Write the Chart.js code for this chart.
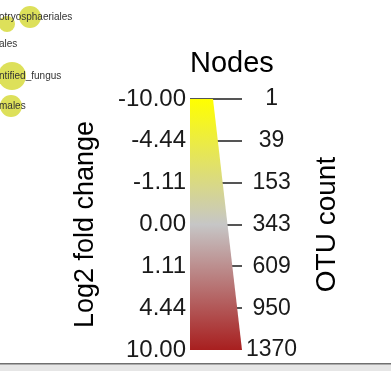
<!DOCTYPE html>
<html>
<head>
<meta charset="utf-8">
<script src="https://cdn.jsdelivr.net/npm/chart.js@4/dist/chart.umd.min.js"></script>
<style>
  body { margin: 0; background: #fff; }
  #wrap { position: relative; width: 391px; height: 371px; overflow: hidden; }
  #legend { position: absolute; left: 0; top: 0; }
  #nodes { position: absolute; left: 0; top: 0; }
</style>
</head>
<body>
<div id="wrap">
  <canvas id="legend" width="391" height="371"></canvas>
  <canvas id="nodes" width="130" height="125"></canvas>
</div>
<script>
// legend tick labels
const log2Ticks = ['-10.00', '-4.44', '-1.11', '0.00', '1.11', '4.44', '10.00'];
const otuTicks = ['1', '39', '153', '343', '609', '950', '1370'];
// legend node size at smallest and largest OTU count
const nodeSize = [23, 52];

// network nodes visible at the top left corner
const nodeLabels = ['otryosphaeriales', '', 'ales', 'ntified_fungus', 'males'];
const nodeX = [30, 7, -20, 12, 11];
const nodeY = [17, 24, 44, 76, 106];
const nodeR = [11, 8, 10, 14, 11];

const FONT = "'Liberation Sans', Arial, sans-serif";
const TEXT = '#1a1a1a';

function wedgeGradient(context) {
  const { ctx, chartArea } = context.chart;
  if (!chartArea) return '#c6c6c6';
  const g = ctx.createLinearGradient(0, chartArea.top, 0, chartArea.bottom);
  g.addColorStop(0, '#ffff00');
  g.addColorStop(0.5, '#c6c6c6');
  g.addColorStop(1, '#a81f1f');
  return g;
}

// extra texts + window strip at the bottom
const legendText = {
  id: 'legendText',
  afterDraw(chart) {
    const { ctx, chartArea } = chart;
    ctx.save();
    ctx.fillStyle = '#000';
    ctx.font = '29px ' + FONT;
    ctx.textAlign = 'left';
    ctx.textBaseline = 'alphabetic';
    ctx.fillText('Nodes', chartArea.left, chartArea.top - 27);

    ctx.font = '28px ' + FONT;
    ctx.textAlign = 'center';
    ctx.textBaseline = 'middle';
    ctx.translate(chartArea.right + 85, (chartArea.top + chartArea.bottom) / 2);
    ctx.rotate(-Math.PI / 2);
    ctx.fillText('OTU count', 0, 0);
    ctx.restore();

    ctx.save();
    ctx.fillStyle = '#e6e6e6';
    ctx.fillRect(0, 364, chart.width, chart.height - 364);
    ctx.fillStyle = '#707070';
    ctx.fillRect(0, 363, chart.width, 1.5);
    ctx.restore();
  }
};

new Chart(document.getElementById('legend'), {
  type: 'line',
  data: {
    datasets: [{
      data: [{ x: nodeSize[0], y: 0 }, { x: nodeSize[1], y: otuTicks.length - 1 }],
      backgroundColor: wedgeGradient,
      fill: 'origin',
      borderWidth: 0,
      pointRadius: 0,
      tension: 0
    }]
  },
  options: {
    indexAxis: 'y',
    responsive: false,
    animation: false,
    events: [],
    layout: { padding: { left: 0, right: 0, top: 99, bottom: 21 } },
    plugins: { legend: { display: false }, tooltip: { enabled: false } },
    scales: {
      x: { type: 'linear', display: false, min: 0, max: nodeSize[1] },
      y: {
        type: 'linear',
        position: 'left',
        reverse: true,
        min: 0,
        max: log2Ticks.length - 1,
        afterFit: (scale) => { scale.width = 190; },
        grid: { display: false, drawTicks: false },
        border: { display: false },
        ticks: {
          stepSize: 1,
          padding: 4,
          color: TEXT,
          font: { family: FONT, size: 24 },
          callback: (v) => log2Ticks[v]
        },
        title: {
          display: true,
          text: 'Log2 fold change',
          color: '#000',
          font: { family: FONT, size: 27, lineHeight: 1 },
          padding: { top: 72, bottom: 0 }
        }
      },
      y2: {
        type: 'linear',
        position: 'right',
        reverse: true,
        min: 0,
        max: otuTicks.length - 1,
        afterFit: (scale) => { scale.width = 149; },
        grid: {
          drawTicks: false,
          lineWidth: 2,
          color: (c) => c.tick && c.tick.value === otuTicks.length - 1 ? 'rgba(0,0,0,0)' : '#555'
        },
        border: { display: false },
        ticks: {
          stepSize: 1,
          padding: 4,
          crossAlign: 'center',
          color: TEXT,
          font: { family: FONT, size: 23 },
          callback: (v) => otuTicks[v]
        }
      }
    }
  },
  plugins: [legendText]
});

const nodeLabelPlugin = {
  id: 'nodeLabels',
  afterDatasetsDraw(chart) {
    const { ctx, chartArea, scales } = chart;
    ctx.save();
    ctx.fillStyle = '#333';
    ctx.font = '10px ' + FONT;
    ctx.textAlign = 'left';
    ctx.textBaseline = 'middle';
    nodeLabels.forEach((label, i) => {
      if (label) ctx.fillText(label, chartArea.left - 1, scales.y.getPixelForValue(nodeY[i]));
    });
    ctx.restore();
  }
};

new Chart(document.getElementById('nodes'), {
  type: 'bubble',
  data: {
    datasets: [{
      data: nodeX.map((x, i) => ({ x: x, y: nodeY[i], r: nodeR[i] })),
      backgroundColor: '#dde05a',
      borderWidth: 0,
      hoverRadius: 0,
      clip: false
    }]
  },
  options: {
    responsive: false,
    animation: false,
    events: [],
    layout: { padding: 0, autoPadding: false },
    plugins: { legend: { display: false }, tooltip: { enabled: false } },
    scales: {
      x: { display: false, min: 0, max: 130 },
      y: { display: false, min: 0, max: 125, reverse: true }
    }
  },
  plugins: [nodeLabelPlugin]
});
</script>
</body>
</html>
